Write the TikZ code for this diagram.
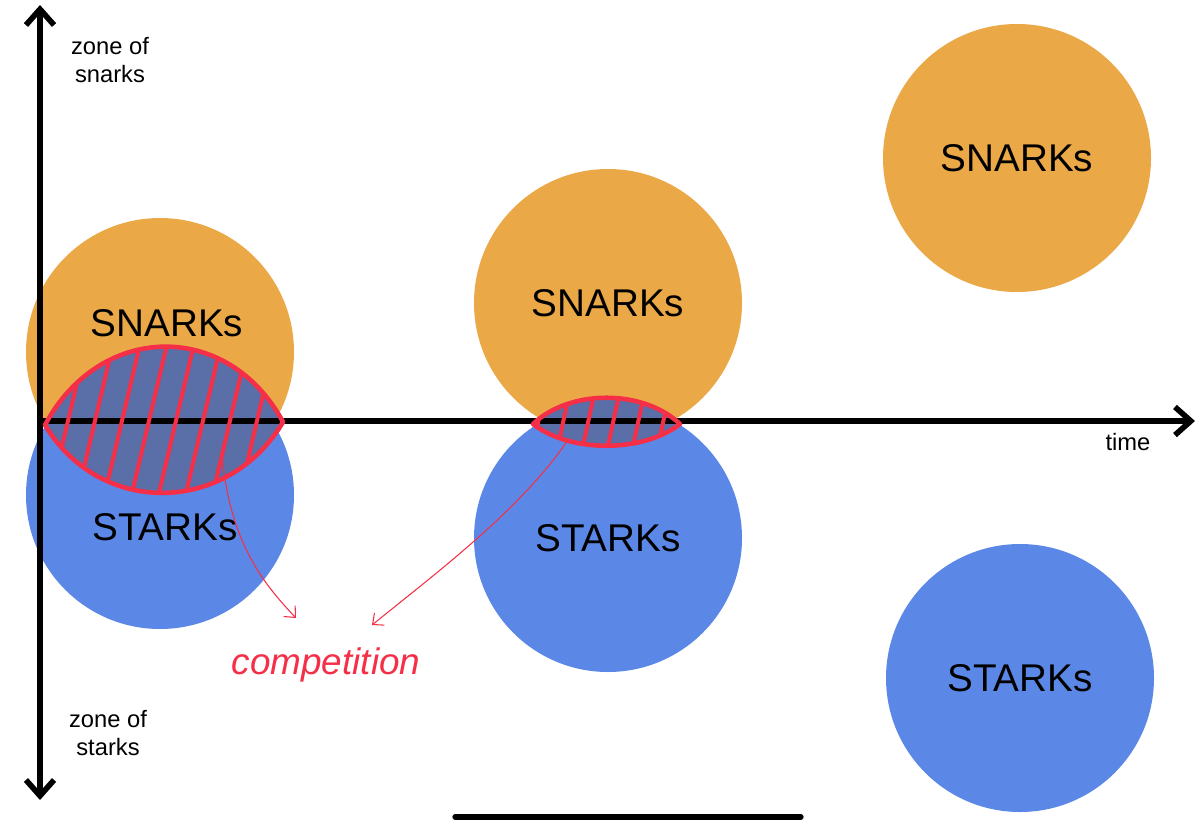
\documentclass[tikz,border=0pt]{standalone}
\usepackage{fontspec}
\setmainfont{Liberation Sans}
\usetikzlibrary{arrows.meta}
\definecolor{snark}{HTML}{EBA847}
\definecolor{stark}{HTML}{5B88E6}
\definecolor{lensfill}{HTML}{5A6EA8}
\definecolor{red1}{HTML}{F52F47}
\begin{document}
\begin{tikzpicture}[x=0.02cm,y=-0.02cm,
 snarkc/.style={circle,fill=snark,minimum size=268*0.02cm,inner sep=0pt,font=\fontsize{22}{26}\selectfont},
 starkc/.style={circle,fill=stark,minimum size=268*0.02cm,inner sep=0pt,font=\fontsize{22}{26}\selectfont},
 axis/.style={line width=3.2pt,-{Straight Barb[length=9pt,width=16pt,line width=3.2pt]}},
 lbl/.style={font=\fontsize{13.5}{15.5}\selectfont,align=center},
 hatch/.style={red1,line width=2.3pt},
 note/.style={red1,line width=0.6pt,-{Straight Barb[length=5pt,width=9pt]}}]
\useasboundingbox (0,0) rectangle (1200,829);
\node[snarkc] (s1) at (160,352) {};
\node[starkc] (t1) at (160,495) {};
\node[snarkc] (s2) at (608,303) {SNARKs};
\node[starkc] (t2) at (608,538) {STARKs};
\node[snarkc] (s3) at (1017,158) {SNARKs};
\node[starkc] (t3) at (1020,678) {STARKs};
\node[font=\fontsize{22}{26}\selectfont] (s1l) at (167,323) {SNARKs};
\node[font=\fontsize{22}{26}\selectfont] (t1l) at (165,527) {STARKs};
% lens fills
\fill[lensfill] (45,425) .. controls (100,322) and (228,320) .. (283,422) .. controls (228,515) and (100,517) .. (45,425) -- cycle;
\fill[lensfill] (533,424) .. controls (570,389) and (643,389) .. (680,424) .. controls (643,453) and (570,453) .. (533,424) -- cycle;
% axes
\coordinate (o) at (40,421);
\coordinate (yt) at (40,5);
\coordinate (yb) at (40,800);
\coordinate (xr) at (1195,421);
\draw[axis] (40,421) -- (yt);
\draw[axis] (40,421) -- (yb);
\draw[axis] (38,421) -- (xr);
% hatches
\begin{scope}
\clip (45,425) .. controls (100,322) and (228,320) .. (283,422) .. controls (228,515) and (100,517) .. (45,425) -- cycle;
\foreach \i in {0,...,10} \draw[hatch] (20+27*\i,510) -- (60+27*\i,340);
\end{scope}
\draw[red1,line width=2.6pt,line join=round] (45,425) .. controls (100,322) and (228,320) .. (283,422) .. controls (228,515) and (100,517) .. (45,425) -- cycle;
\begin{scope}
\clip (533,424) .. controls (570,389) and (643,389) .. (680,424) .. controls (643,453) and (570,453) .. (533,424) -- cycle;
\foreach \i in {0,...,7} \draw[hatch] (530+25*\i,460) -- (545+25*\i,390);
\end{scope}
\draw[red1,line width=2.6pt,line join=round] (533,424) .. controls (570,389) and (643,389) .. (680,424) .. controls (643,453) and (570,453) .. (533,424) -- cycle;
% labels
\node[lbl] (zs) at (110,60) {zone of\\snarks};
\node[lbl] (zt) at (108,733) {zone of\\starks};
\node[lbl] (tm) at (1128,442) {time};
\node[red1,font=\itshape\fontsize{21}{24}\selectfont] (comp) at (326,665) {competition};
\coordinate (a1) at (222,455);
\coordinate (e1) at (296,618);
\coordinate (a2) at (568,440);
\coordinate (e2) at (372,625);
\draw[note] (a1) .. controls (230,540) and (260,580) .. (e1);
\draw[note] (a2) .. controls (520,510) and (440,570) .. (e2);
% bottom bar
\coordinate (b1) at (455,817);
\coordinate (b2) at (801,817);
\draw[line width=3pt,line cap=round] (b1) -- (b2);
\end{tikzpicture}
\end{document}
